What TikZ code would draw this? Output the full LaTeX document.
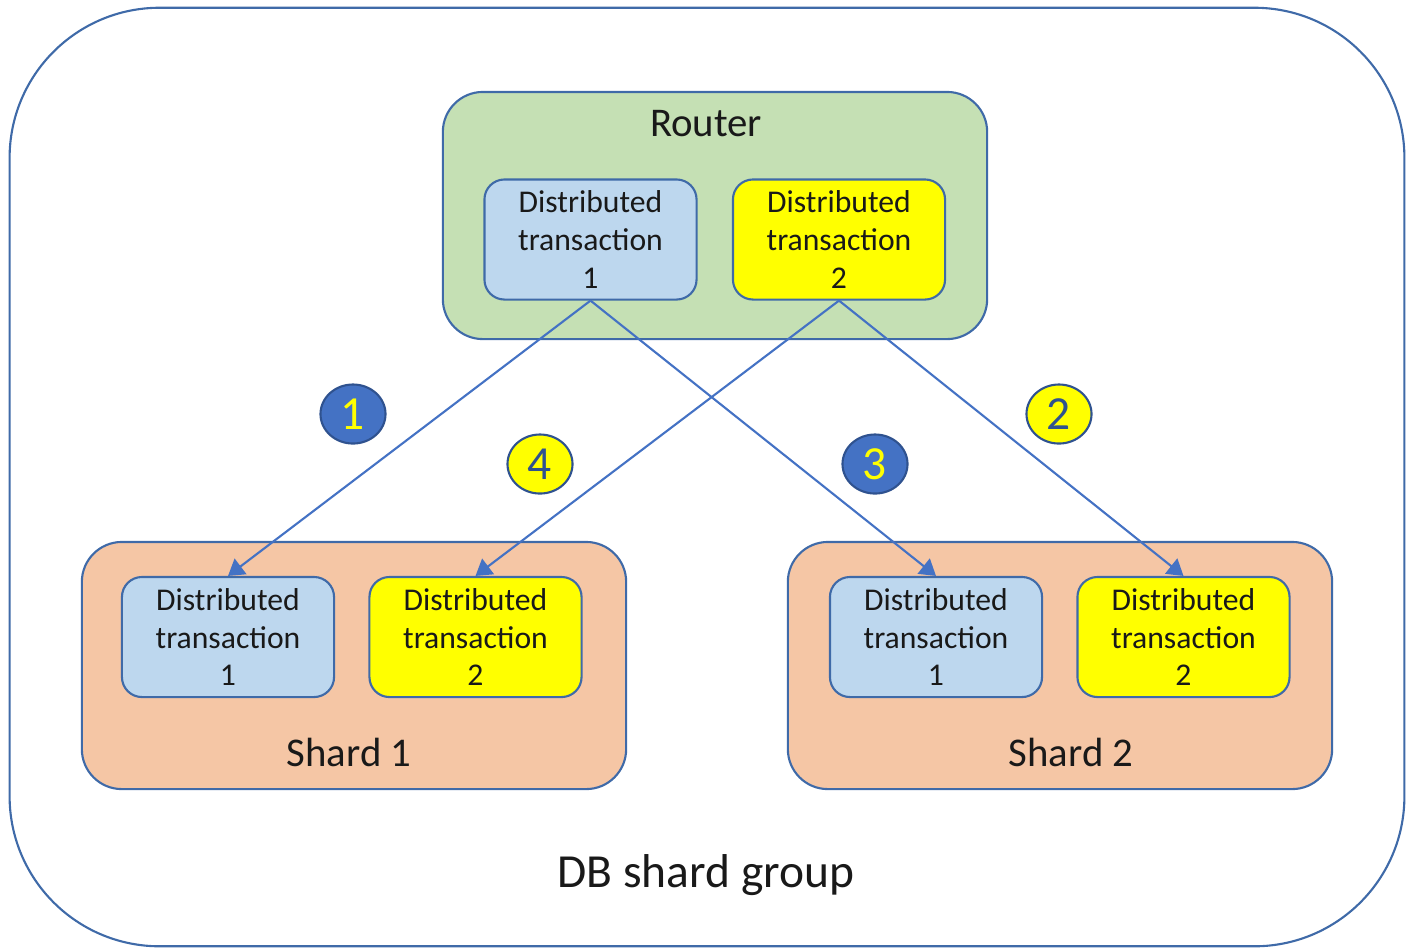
\documentclass[tikz,border=0pt]{standalone}
\usepackage{fontspec}
\setmainfont{Carlito}
\usetikzlibrary{arrows.meta,shapes.geometric}
\definecolor{edgeblue}{HTML}{3F6AA8}
\definecolor{linkblue}{HTML}{4472C4}
\definecolor{darkblue}{HTML}{2F528F}
\definecolor{routergreen}{HTML}{C5E0B4}
\definecolor{shardsalmon}{HTML}{F5C6A5}
\definecolor{txblue}{HTML}{BDD7EE}
\definecolor{txyellow}{HTML}{FFFF00}
\begin{document}
\begin{tikzpicture}[x=0.01cm, y=-0.01cm]
  \tikzstyle{outer} = [draw=edgeblue, line width=0.6pt, rounded corners=1.5cm, minimum width=13.94cm, minimum height=9.38cm]
  \tikzstyle{group} = [draw=edgeblue, line width=0.6pt, rounded corners=0.4cm, minimum width=5.44cm, minimum height=2.47cm]
  \tikzstyle{tx} = [draw=edgeblue, line width=0.6pt, rounded corners=0.2cm, minimum width=2.12cm, minimum height=1.2cm, align=center, inner sep=1pt, text=black!90, font=\fontsize{9}{10.8}\selectfont]
  \tikzstyle{num} = [draw=darkblue, line width=0.6pt, ellipse, minimum width=0.65cm, minimum height=0.59cm, inner sep=0pt, font=\fontsize{13.5}{15}\selectfont]
  \tikzstyle{title} = [text=black!90, font=\fontsize{11.6}{14}\selectfont]
  \useasboundingbox (0,0) rectangle (1409,947);
  \node[outer] (dbgroup) at (707, 477) {};
  \node[title, font=\fontsize{13.5}{16}\selectfont] (dblabel) at (706, 875) {DB shard group};
  % router
  \node[group, fill=routergreen] (router) at (715, 215.5) {};
  \node[title] (routerlabel) at (706, 124) {Router};
  \node[tx, fill=txblue] (r1) at (590.5, 239.5) {Distributed\\transaction\\1};
  \node[tx, fill=txyellow] (r2) at (839, 239.5) {Distributed\\transaction\\2};
  % shards
  \node[group, fill=shardsalmon] (shard1) at (354, 665.5) {};
  \node[title] (shard1label) at (349, 752) {Shard 1};
  \node[tx, fill=txblue] (s1t1) at (228, 637) {Distributed\\transaction\\1};
  \node[tx, fill=txyellow] (s1t2) at (475.5, 637) {Distributed\\transaction\\2};
  \node[group, fill=shardsalmon] (shard2) at (1060, 665.5) {};
  \node[title] (shard2label) at (1071, 752) {Shard 2};
  \node[tx, fill=txblue] (s2t1) at (936, 637) {Distributed\\transaction\\1};
  \node[tx, fill=txyellow] (s2t2) at (1183.5, 637) {Distributed\\transaction\\2};
  % order of the calls
  \node[num, fill=linkblue, text=txyellow] (n1) at (353, 414) {1};
  \node[num, fill=txyellow, text=darkblue] (n2) at (1059, 414) {2};
  \node[num, fill=linkblue, text=txyellow] (n3) at (875, 464) {3};
  \node[num, fill=txyellow, text=darkblue] (n4) at (540, 464) {4};
  \draw[-{Triangle[width=5.5pt, length=4.5pt]}, linkblue, line width=0.6pt] (r1.south) -- (s1t1.north);
  \draw[-{Triangle[width=5.5pt, length=4.5pt]}, linkblue, line width=0.6pt] (r1.south) -- (s2t1.north);
  \draw[-{Triangle[width=5.5pt, length=4.5pt]}, linkblue, line width=0.6pt] (r2.south) -- (s1t2.north);
  \draw[-{Triangle[width=5.5pt, length=4.5pt]}, linkblue, line width=0.6pt] (r2.south) -- (s2t2.north);
\end{tikzpicture}
\end{document}
